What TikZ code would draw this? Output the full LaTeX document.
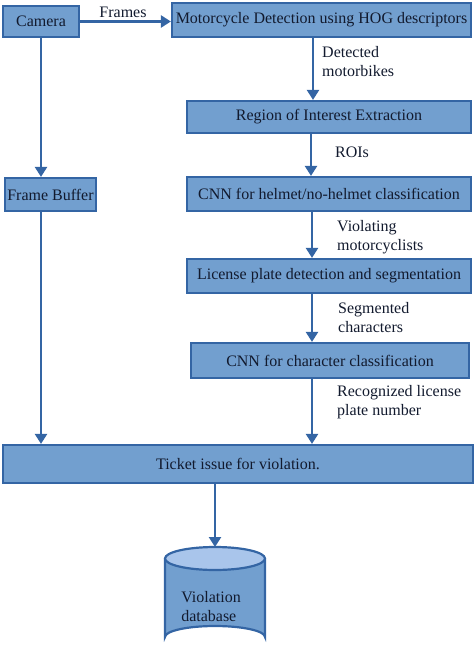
\documentclass[tikz,border=0pt]{standalone}
\usepackage{fontspec}
\setmainfont{Liberation Serif}
\usetikzlibrary{arrows.meta}
\definecolor{boxfill}{HTML}{729FCF}
\definecolor{boxline}{HTML}{3465A4}
\definecolor{topfill}{HTML}{A9C5EB}
\definecolor{txt}{HTML}{121A2E}
\tikzset{
  box/.style={draw=boxline, fill=boxfill, line width=2.2pt, rectangle, inner sep=0pt,
    font=\fontsize{16}{19}\selectfont, text=txt},
  lbl/.style={font=\fontsize{16}{19}\selectfont, text=txt, align=left, inner sep=0pt},
  arr/.style={draw=boxline, line width=2.4pt, -{Triangle[length=10pt,width=12pt]}, color=boxline},
}
\begin{document}
\begin{tikzpicture}[x=1pt,y=-1pt]
\useasboundingbox (0,0) rectangle (474,650);
% boxes
\node[box, minimum width=76pt, minimum height=31pt] (cam) at (41,21.5) {Camera};
\node[box, minimum width=299pt, minimum height=34pt] (mot) at (321.5,20) {Motorcycle Detection using HOG descriptors};
\node[box, minimum width=284pt, minimum height=32pt] (roi) at (329,117) {Region of Interest Extraction};
\node[box, minimum width=284pt, minimum height=34pt] (cnn) at (329,194) {CNN for helmet/no-helmet classification};
\node[box, minimum width=91pt, minimum height=33pt] (fb) at (50.5,194.5) {Frame Buffer};
\node[box, minimum width=284pt, minimum height=34pt] (lp) at (329,276) {License plate detection and segmentation};
\node[box, minimum width=278pt, minimum height=35pt] (cc) at (330,360.5) {CNN for character classification};
\node[box, minimum width=470pt, minimum height=38pt] (tk) at (238,464) {Ticket issue for violation.};
% database cylinder
\draw[draw=boxline, fill=boxfill, line width=2.2pt]
  (165,558.5) -- (165,637) arc[start angle=180, end angle=360, x radius=50, y radius=11] -- (265,558.5);
\draw[draw=boxline, fill=topfill, line width=2.2pt] (215,558.5) ellipse[x radius=50, y radius=11.5];
\coordinate (dbtop) at (215,547);
\node[lbl] (db) at (211,607) {Violation\\database};
% labels
\node[lbl] (lf) at (123,12) {Frames};
\node[lbl, anchor=west] (l1) at (322,62) {Detected\\motorbikes};
\node[lbl] (l2) at (352,152) {ROIs};
\node[lbl, anchor=west] (l3) at (337,237.5) {Violating\\motorcyclists};
\node[lbl, anchor=west] (l4) at (338,317.5) {Segmented\\characters};
\node[lbl, anchor=west] (l5) at (337,402.5) {Recognized license\\plate number};
% connectors
\draw[arr] (cam.east) -- (cam.east -| mot.west);
\draw[arr] (cam.south) -- (cam.south |- fb.north);
\draw[arr] (cam.south |- fb.south) -- (cam.south |- tk.north);
\draw[arr] ([xshift=-8.5pt]mot.south) -- ([xshift=-8.5pt]mot.south |- roi.north);
\draw[arr] ([xshift=-18pt]roi.south) -- ([xshift=-18pt]roi.south |- cnn.north);
\draw[arr] ([xshift=-17pt]cnn.south) -- ([xshift=-17pt]cnn.south |- lp.north);
\draw[arr] ([xshift=-17pt]lp.south) -- ([xshift=-17pt]lp.south |- cc.north);
\draw[arr] ([xshift=-18pt]cc.south) -- ([xshift=-18pt]cc.south |- tk.north);
\draw[arr] (dbtop |- tk.south) -- (dbtop);
\end{tikzpicture}
\end{document}
